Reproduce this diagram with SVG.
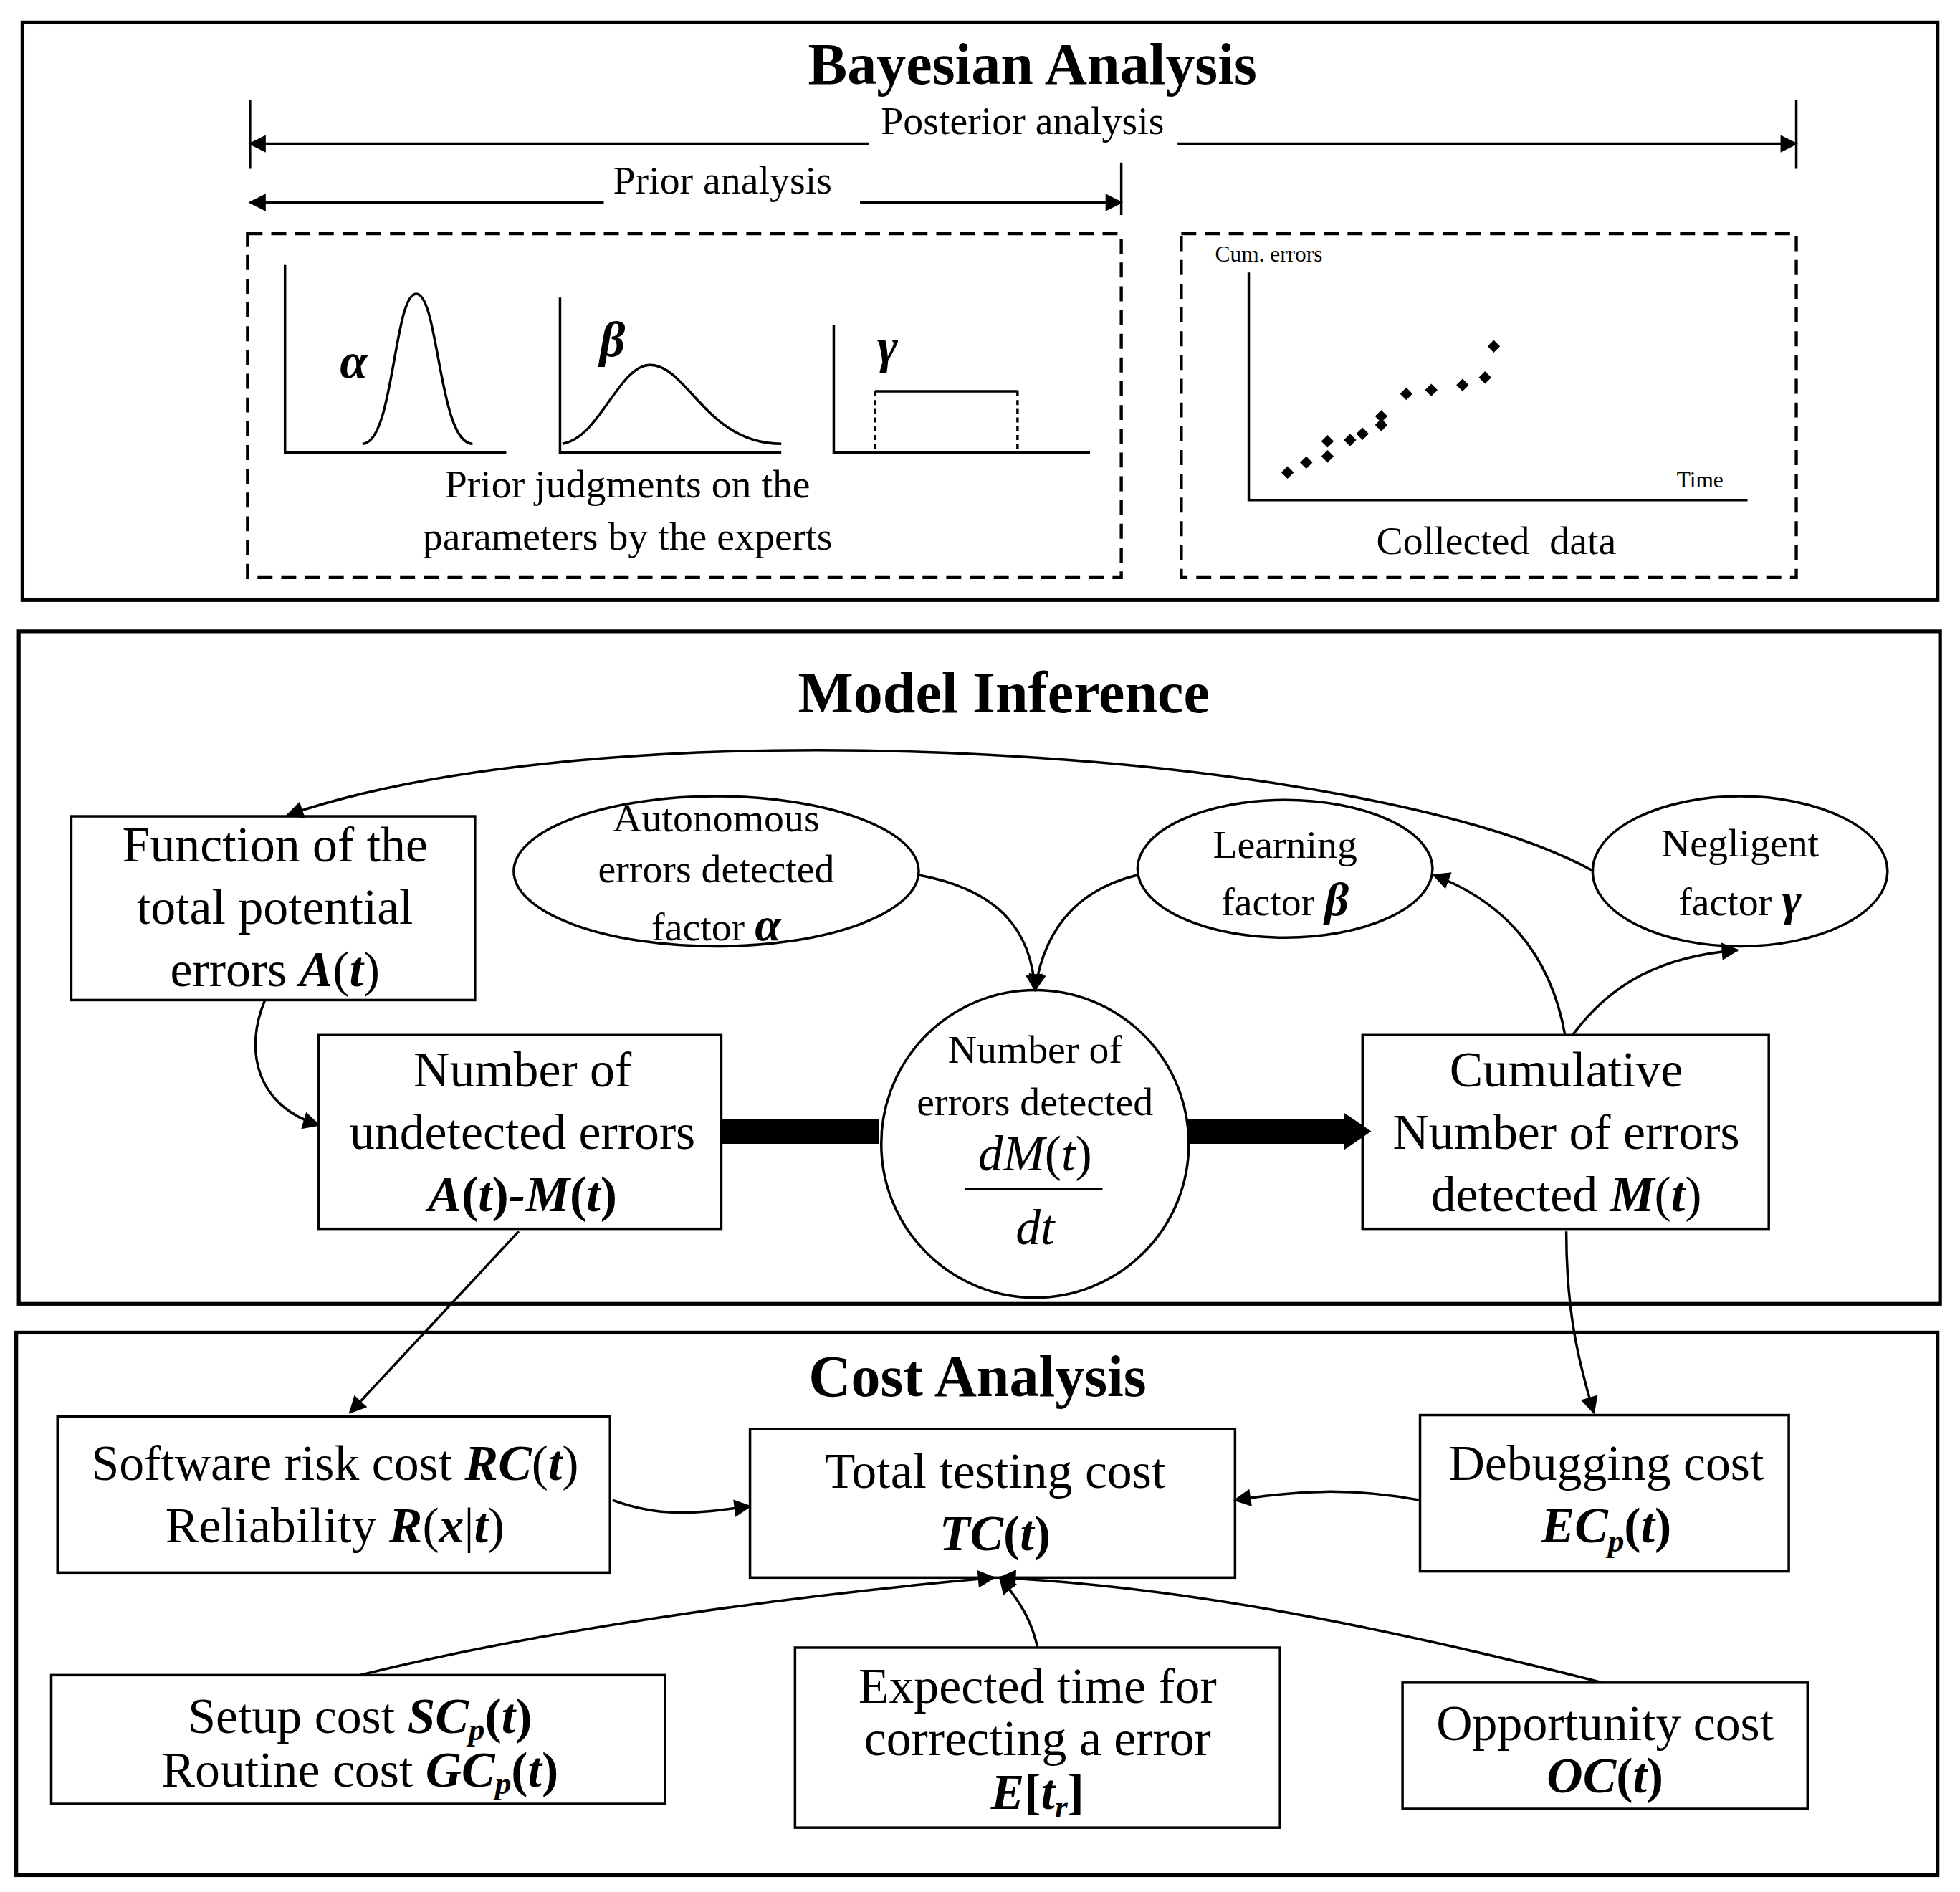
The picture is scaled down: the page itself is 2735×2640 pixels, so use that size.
<svg xmlns="http://www.w3.org/2000/svg" width="2735" height="2640" viewBox="0 0 2735 2640">
<style>
text{font-family:"Liberation Serif","Times New Roman",serif;fill:#000;text-anchor:middle}
.t{font-size:47px;font-weight:bold}
.m{font-size:40px}
.s{font-size:32px}
.b{font-weight:bold;font-style:italic}
.box{fill:#fff;stroke:#000;stroke-width:2}
.pan{fill:none;stroke:#000;stroke-width:3}
.dash{fill:none;stroke:#000;stroke-width:2.5;stroke-dasharray:12,7}
.ln{fill:none;stroke:#000;stroke-width:2}
.c{fill:none;stroke:#000;stroke-width:2;marker-end:url(#ah)}
</style>
<defs>
<marker id="ah" viewBox="0 0 10 10" refX="9" refY="5" markerWidth="22" markerHeight="14" markerUnits="userSpaceOnUse" orient="auto-start-reverse"><path d="M0,0L10,5L0,10z"/></marker>
</defs>
<rect width="2735" height="2640" fill="#fff"/>
<g transform="scale(1.7443)">
<g id="bayesian">
<rect class="pan" x="18" y="18" width="1532" height="462"/>
<text class="t" x="826" y="67">Bayesian Analysis</text>
<line class="ln" x1="200" y1="80" x2="200" y2="135"/>
<line class="ln" x1="1437" y1="80" x2="1437" y2="135"/>
<line class="ln" x1="897" y1="130" x2="897" y2="172"/>
<path class="ln" d="M200,115H695" marker-start="url(#ah)"/>
<path class="ln" d="M942,115H1437" marker-end="url(#ah)"/>
<text class="s" x="818" y="107">Posterior analysis</text>
<path class="ln" d="M200,162H483" marker-start="url(#ah)"/>
<path class="ln" d="M688,162H897" marker-end="url(#ah)"/>
<text class="s" x="578" y="155">Prior analysis</text>
<rect class="dash" x="198" y="187" width="699" height="275"/>
<rect class="dash" x="945" y="187" width="492" height="275"/>
<path class="ln" d="M228,212V362H405"/>
<path class="ln" stroke-width="2.5" d="M290,355C315,355 315,235 333,235C351,235 351,355 378,355"/>
<text class="m b" x="283" y="302">α</text>
<path class="ln" d="M448,238V362H625"/>
<path class="ln" stroke-width="2.5" d="M450,355C480,350 495,292 520,292C550,292 565,355 625,355"/>
<text class="m b" x="490" y="285">β</text>
<path class="ln" d="M667,260V362H872"/>
<path class="ln" stroke-width="2.5" d="M700,313H814"/>
<path class="ln" stroke-dasharray="4,3" d="M700,313V362M814,313V362"/>
<text class="m b" x="710" y="290">γ</text>
<text class="s" x="502" y="398">Prior judgments on the</text>
<text class="s" x="502" y="440">parameters by the experts</text>
<path class="ln" d="M999,218V400H1398"/>
<text x="1015" y="209" style="font-size:18px">Cum. errors</text>
<text x="1360" y="390" style="font-size:18px">Time</text>
<path d="M1030,373l5,5-5,5-5-5z M1045,365l5,5-5,5-5-5z M1062,360l5,5-5,5-5-5z M1062,348l5,5-5,5-5-5z M1080,347l5,5-5,5-5-5z M1090,342l5,5-5,5-5-5z M1105,335l5,5-5,5-5-5z M1105,328l5,5-5,5-5-5z M1125,310l5,5-5,5-5-5z M1145,307l5,5-5,5-5-5z M1170,303l5,5-5,5-5-5z M1188,297l5,5-5,5-5-5z M1195,272l5,5-5,5-5-5z"/>
<text class="s" x="1197" y="443" xml:space="preserve">Collected  data</text>
</g>
<g id="model">
<rect class="pan" x="15" y="505" width="1537" height="538"/>
<text class="t" x="803" y="570">Model Inference</text>
</g>
<g id="nodeA"><rect class="box" x="57" y="653" width="323" height="147"/>
<text class="m" x="220" y="689">Function of the</text><text class="m" x="220" y="739">total potential</text><text class="m" x="220" y="789">errors <tspan class="b">A</tspan>(<tspan class="b">t</tspan>)</text></g>
<g id="autonomous"><ellipse class="box" cx="573" cy="697" rx="162" ry="60"/>
<text class="s" x="573" y="665">Autonomous</text><text class="s" x="573" y="706">errors detected</text><text class="s" x="573" y="752">factor <tspan class="b" font-size="38">α</tspan></text></g>
<g id="learning"><ellipse class="box" cx="1028" cy="695" rx="118" ry="55"/>
<text class="s" x="1028" y="686">Learning</text><text class="s" x="1028" y="732">factor <tspan class="b" font-size="38">β</tspan></text></g>
<g id="negligent"><ellipse class="box" cx="1392" cy="697" rx="118" ry="60"/>
<text class="s" x="1392" y="685">Negligent</text><text class="s" x="1392" y="732">factor <tspan class="b" font-size="38">γ</tspan></text></g>
<g id="undetected"><rect class="box" x="255" y="828" width="322" height="155"/>
<text class="m" x="418" y="869">Number of</text><text class="m" x="418" y="919">undetected errors</text><text class="m b" x="418" y="969">A<tspan font-style="normal">(</tspan>t<tspan font-style="normal">)</tspan>-M<tspan font-style="normal">(</tspan>t<tspan font-style="normal">)</tspan></text></g>
<g id="circle"><circle class="box" cx="828" cy="915" r="123"/>
<text class="s" x="828" y="850">Number of</text><text class="s" x="828" y="892">errors detected</text>
<text class="m" x="828" y="936" font-style="italic">dM<tspan font-style="normal">(</tspan>t<tspan font-style="normal">)</tspan></text>
<line class="ln" x1="772" y1="951" x2="882" y2="951"/>
<text class="m" x="828" y="995" font-style="italic">dt</text></g>
<g id="cumulative"><rect class="box" x="1090" y="828" width="325" height="155"/>
<text class="m" x="1253" y="869">Cumulative</text><text class="m" x="1253" y="919">Number of errors</text><text class="m" x="1253" y="969">detected <tspan class="b">M</tspan>(<tspan class="b">t</tspan>)</text></g>
<g id="cost">
<rect class="pan" x="13" y="1066" width="1537" height="434"/>
<text class="t" x="782" y="1117">Cost Analysis</text>
</g>
<g id="risk"><rect class="box" x="46" y="1133" width="442" height="125"/>
<text class="m" x="268" y="1184">Software risk cost <tspan class="b">RC</tspan>(<tspan class="b">t</tspan>)</text>
<text class="m" x="268" y="1234">Reliability <tspan class="b">R</tspan>(<tspan class="b">x</tspan>|<tspan class="b">t</tspan>)</text></g>
<g id="total"><rect class="box" x="600" y="1143" width="388" height="119"/>
<text class="m" x="796" y="1190">Total testing cost</text><text class="m b" x="796" y="1240">TC<tspan font-style="normal">(</tspan>t<tspan font-style="normal">)</tspan></text></g>
<g id="debugging"><rect class="box" x="1136" y="1132" width="295" height="125"/>
<text class="m" x="1285" y="1184">Debugging cost</text><text class="m b" x="1285" y="1234">EC<tspan font-size="26" dy="7">p</tspan><tspan dy="-7" font-style="normal">(</tspan>t<tspan font-style="normal">)</tspan></text></g>
<g id="setup"><rect class="box" x="41" y="1340" width="491" height="103"/>
<text class="m" x="288" y="1386">Setup cost <tspan class="b">SC<tspan font-size="26" dy="6">p</tspan><tspan dy="-6" font-style="normal">(</tspan>t<tspan font-style="normal">)</tspan></tspan></text>
<text class="m" x="288" y="1429">Routine cost <tspan class="b">GC<tspan font-size="26" dy="6">p</tspan><tspan dy="-6" font-style="normal">(</tspan>t<tspan font-style="normal">)</tspan></tspan></text></g>
<g id="expected"><rect class="box" x="636" y="1318" width="388" height="144"/>
<text class="m" x="830" y="1362">Expected time for</text><text class="m" x="830" y="1404">correcting a error</text>
<text class="m b" x="830" y="1447">E<tspan font-style="normal">[</tspan>t<tspan font-size="26" dy="7">r</tspan><tspan dy="-7" font-style="normal">]</tspan></text></g>
<g id="opportunity"><rect class="box" x="1122" y="1346" width="324" height="101"/>
<text class="m" x="1284" y="1392">Opportunity cost</text><text class="m b" x="1284" y="1434">OC<tspan font-style="normal">(</tspan>t<tspan font-style="normal">)</tspan></text></g>
<g id="connectors">
<path class="c" d="M1275,697C1100,600 500,560 230,652"/>
<path class="c" d="M212,800C195,840 205,885 255,900"/>
<path class="c" d="M735,700C800,712 825,745 828,792"/>
<path class="c" d="M910,700C860,712 835,745 828,792"/>
<path class="c" d="M1252,828C1240,760 1200,720 1147,700"/>
<path class="c" d="M1258,828C1290,785 1330,765 1390,760"/>
<line x1="577" y1="905" x2="703" y2="905" stroke="#000" stroke-width="20"/>
<line x1="950" y1="905" x2="1080" y2="905" stroke="#000" stroke-width="20"/>
<path d="M1075,890L1097,905L1075,920z"/>
<path class="c" d="M415,985L280,1130"/>
<path class="c" d="M1253,985C1253,1050 1263,1090 1275,1130"/>
<path class="c" d="M490,1200C530,1215 560,1210 600,1205"/>
<path class="c" d="M1136,1200C1080,1190 1040,1192 988,1200"/>
<path class="c" d="M288,1340C450,1300 650,1275 795,1262"/>
<path class="c" d="M830,1318C825,1295 815,1280 800,1262"/>
<path class="c" d="M1282,1346C1100,1300 950,1270 800,1262"/>
</g>
</g>
</svg>
